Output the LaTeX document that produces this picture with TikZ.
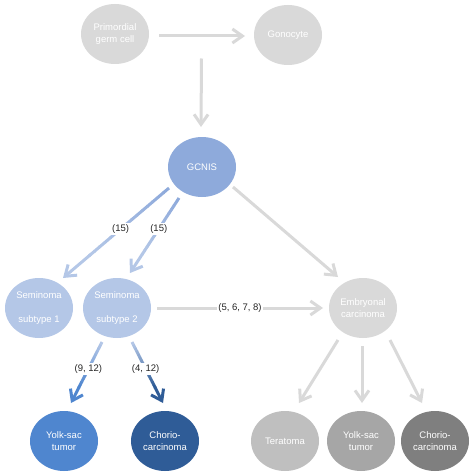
\documentclass[tikz,border=0pt]{standalone}
\usepackage{fontspec}
\setmainfont{Liberation Sans}
\usetikzlibrary{shapes.geometric,arrows.meta,calc}
\definecolor{cgray}{HTML}{D9D9D9}
\definecolor{cgcnis}{HTML}{8EAADB}
\definecolor{csem}{HTML}{B4C7E7}
\definecolor{cysa}{HTML}{4F86CF}
\definecolor{cchoa}{HTML}{2F5C97}
\definecolor{cter}{HTML}{BFBFBF}
\definecolor{cysb}{HTML}{A6A6A6}
\definecolor{cchob}{HTML}{7F7F7F}
\definecolor{labc}{HTML}{262626}
\newcommand\gradconn[4]{%
  \foreach \i in {0,...,14}{%
    \pgfmathtruncatemacro\p{100*\i/14}%
    \draw[line width=3pt, color=#4!\p!#3] ($(#1)!\i/20!(#2)$) -- ($(#1)!\i/20+0.055!(#2)$);
  }%
  \draw[conn, color=#4] ($(#1)!0.74!(#2)$) -- (#2);
}
\begin{document}
\begin{tikzpicture}[x=1pt,y=-1pt,
  cell/.style={ellipse, minimum width=68pt, minimum height=60pt, inner sep=0pt,
    text=white, align=center, font=\fontsize{9.5}{11.5}\selectfont},
  conn/.style={line width=3pt, -{Straight Barb[length=10pt,width=14pt]}},
  lab/.style={fill=white, inner sep=1.5pt, text=labc, font=\fontsize{9.5}{11.5}\selectfont}]
\useasboundingbox (0,0) rectangle (474,476);
% nodes
\node[cell, fill=cgray] (pgc) at (115,34) {Primordial\\germ cell};
\node[cell, fill=cgray] (gono) at (288,35) {Gonocyte};
\node[cell, fill=cgcnis] (gcnis) at (202,167) {GCNIS};
\node[cell, fill=csem] (sem1) at (39,308) {Seminoma\\[12pt]subtype 1};
\node[cell, fill=csem] (sem2) at (117,308) {Seminoma\\[12pt]subtype 2};
\node[cell, fill=cgray] (emb) at (363,308) {Embryonal\\carcinoma};
\node[cell, fill=cysa] (ys1) at (64,441) {Yolk-sac\\tumor};
\node[cell, fill=cchoa] (ch1) at (165,441) {Chorio-\\carcinoma};
\node[cell, fill=cter] (ter) at (285,441) {Teratoma};
\node[cell, fill=cysb] (ys2) at (361,441) {Yolk-sac\\tumor};
\node[cell, fill=cchob] (ch2) at (435,441) {Chorio-\\carcinoma};
% connector end points
\coordinate (mid) at ($(pgc)!0.5!(gono)$);
\coordinate (a3) at ($(gcnis)+(-33,21)$);  \coordinate (b3) at ($(sem1)+(24,-30)$);
\coordinate (a4) at ($(gcnis)+(-23,31)$);  \coordinate (b4) at ($(sem2)+(13,-35)$);
\coordinate (a7) at ($(sem2)+(-15,34)$);   \coordinate (b7) at ($(ys1)+(7,-38)$);
\coordinate (a8) at ($(sem2)+(15,34)$);    \coordinate (b8) at ($(ch1)+(-2,-38)$);
% gray connectors
\draw[conn, cgray] ($(pgc)+(44,2)$) -- ($(gono)+(-43,1)$);
\draw[conn, cgray] ($(mid)+(0,24)$) -- ($(gcnis)+(-1,-40)$);
\draw[conn, cgray] ($(gcnis)+(31,20)$) -- ($(emb)+(-25,-31)$);
\draw[conn, cgray] ($(sem2)+(40,0)$) -- node[lab, pos=0.5] {(5, 6, 7, 8)} ($(emb)+(-40,0)$);
\draw[conn, cgray] ($(emb)+(-25,32)$) -- ($(ter)+(14,-38)$);
\draw[conn, cgray] ($(emb)+(-1,38)$) -- ($(ys2)+(1,-38)$);
\draw[conn, cgray] ($(emb)+(27,32)$) -- ($(ch2)+(-13,-38)$);
% blue gradient connectors
\gradconn{a3}{b3}{cgcnis}{csem}
\gradconn{a4}{b4}{cgcnis}{csem}
\gradconn{a7}{b7}{csem}{cysa}
\gradconn{a8}{b8}{csem}{cchoa}
% labels
\node[lab] (l3) at ($(a3)!0.456!(b3)$) {(15)};
\node[lab] (l4) at ($(a4)!0.413!(b4)$) {(15)};
\node[lab] (l7) at ($(a7)!0.44!(b7)$) {(9, 12)};
\node[lab] (l8) at ($(a8)!0.44!(b8)$) {(4, 12)};
\end{tikzpicture}
\end{document}
